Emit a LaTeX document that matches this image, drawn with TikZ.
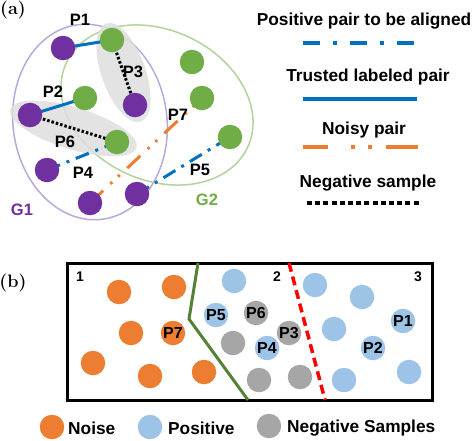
\documentclass[tikz,border=0pt]{standalone}
\usepackage{fontspec}
\newfontfamily\arial{Liberation Sans}
\definecolor{pur}{HTML}{7030A0}
\definecolor{grn}{HTML}{70AD47}
\definecolor{gone}{HTML}{BBA8DA}
\definecolor{gtwo}{HTML}{B3D39C}
\definecolor{blu}{HTML}{0070C0}
\definecolor{org}{HTML}{ED7D31}
\definecolor{lblu}{HTML}{9DC3E6}
\definecolor{gry}{HTML}{A6A6A6}
\definecolor{dgrn}{HTML}{548235}
\definecolor{shade}{HTML}{DEDEDE}
\pgfdeclarelayer{back}
\pgfdeclarelayer{mid}
\pgfsetlayers{back,mid,main}
\tikzset{
  dot/.style={circle, inner sep=0pt, minimum size=24.5pt},
  pc/.style={dot, fill=pur},
  gc/.style={dot, fill=grn},
  oc/.style={dot, fill=org, font=\arial\bfseries\fontsize{16}{17}\selectfont},
  bc/.style={dot, fill=lblu, font=\arial\bfseries\fontsize{16}{17}\selectfont},
  kc/.style={dot, fill=gry, font=\arial\bfseries\fontsize{16}{17}\selectfont},
  lab/.style={inner sep=0pt, font=\arial\bfseries\fontsize{16.5}{18}\selectfont},
  leg/.style={inner sep=0pt, font=\arial\bfseries\fontsize{17.3}{19}\selectfont},
  num/.style={inner sep=0pt, font=\arial\bfseries\fontsize{14}{15}\selectfont},
  panel/.style={inner sep=0pt, font=\bfseries\fontsize{18}{20}\selectfont},
  trusted/.style={blu, line width=3pt},
  posline/.style={blu, line width=3pt, dash pattern=on 14pt off 7pt on 3pt off 7pt},
  noisyline/.style={org, line width=3pt, dash pattern=on 18pt off 10pt on 2.5pt off 8pt on 2.5pt off 10pt},
  negline/.style={black, line width=3pt, dash pattern=on 2.5pt off 2pt},
  shadeell/.style={fill=shade, fill opacity=0.85},
}
\begin{document}
\begin{tikzpicture}[x=1pt,y=-1pt]
\useasboundingbox (0,0) rectangle (474,440);
% ---------- (a) ----------
\node[panel] (pa) at (13,10) {(a)};
\begin{pgfonlayer}{back}
  \draw[gone, line width=1.5pt, rotate around={7:(90,122)}] (90,122) ellipse [x radius=77, y radius=98];
  \draw[gtwo, line width=1.5pt, rotate around={-25:(157,105)}] (157,105) ellipse [x radius=100, y radius=75];
  \fill[shadeell, rotate around={-70.5:(123.5,72.5)}] (123.5,72.5) ellipse [x radius=52, y radius=22];
  \fill[shadeell, rotate around={-17:(73.5,128.5)}] (73.5,128.5) ellipse [x radius=66, y radius=21];
\end{pgfonlayer}
\node[pc] (a1) at (63,48) {};
\node[pc] (a2) at (30,115) {};
\node[pc] (a3) at (135,105) {};
\node[pc] (a4) at (47,170) {};
\node[pc] (a5) at (90,203) {};
\node[pc] (a6) at (137,194) {};
\node[gc] (b1) at (112,40) {};
\node[gc] (b2) at (85,98) {};
\node[gc] (b3) at (117,142) {};
\node[gc] (b4) at (192,62) {};
\node[gc] (b5) at (202,98) {};
\node[gc] (b6) at (230,137) {};
\begin{pgfonlayer}{mid}
  \draw[trusted] (a1.center) -- (b1.center);
  \draw[trusted] (a2.center) -- (b2.center);
  \draw[negline] (b1.center) -- (a3.center);
  \draw[negline] (a2.center) -- (b3.center);
  \draw[posline] (a4.center) -- (b3.center);
  \draw[posline] (a6.center) -- (b6.center);
  \draw[noisyline] (a5.center) -- (b5.center);
\end{pgfonlayer}
\node[lab] (l1) at (80,20) {P1};
\node[lab] (l3) at (133,72) {P3};
\node[lab] (l2) at (53,92) {P2};
\node[lab] (l6) at (65,142) {P6};
\node[lab] (l7) at (178,115) {P7};
\node[lab] (l4) at (83,173) {P4};
\node[lab] (l5) at (200,170) {P5};
\node[lab, text=pur] (g1) at (22,210) {G1};
\node[lab, text=grn] (g2) at (207,200) {G2};
% legend (a)
\node[leg] (t1) at (364,21) {Positive pair to be aligned};
\coordinate (p1s) at (303,43); \coordinate (p1e) at (415,43);
\draw[blu, line width=4pt, dash pattern=on 17pt off 13pt on 4pt off 13pt] (p1s) -- (p1e);
\node[leg] (t2) at (368,77) {Trusted labeled pair};
\coordinate (p2s) at (303,99); \coordinate (p2e) at (417,99);
\draw[blu, line width=4pt] (p2s) -- (p2e);
\node[leg] (t3) at (364,130) {Noisy pair};
\coordinate (p3s) at (303,147); \coordinate (p3e) at (418,147);
\draw[org, line width=4pt, dash pattern=on 25pt off 23pt on 4pt off 13pt on 4pt off 14pt on 40pt] (p3s) -- (p3e);
\node[leg] (t4) at (368,183) {Negative sample};
\coordinate (p4s) at (307,203); \coordinate (p4e) at (421,203);
\draw[black, line width=4pt, dash pattern=on 5pt off 3.2pt] (p4s) -- (p4e);
% ---------- (b) ----------
\node[panel] (pb) at (13,283) {(b)};
\draw[black, line width=3pt] (67,263) rectangle (432,400);
\node[num] (n1) at (80,277) {1};
\node[num] (n2) at (277,277) {2};
\node[num] (n3) at (418,277) {3};
\coordinate (gt) at (198,263); \coordinate (gm) at (189,319); \coordinate (gb) at (248,400);
\draw[dgrn, line width=3pt] (gt) -- (gm) -- (gb);
\coordinate (rt) at (289,263); \coordinate (rb) at (325,400);
\draw[red, line width=3.5pt, dash pattern=on 9pt off 5pt] (rt) -- (rb);
% orange
\node[oc] (o1) at (119,292) {};
\node[oc] (o2) at (174,287) {};
\node[oc] (o3) at (131,333) {};
\node[oc] (o4) at (173,333) {P7};
\node[oc] (o5) at (93,363) {};
\node[oc] (o6) at (150,376) {};
\node[oc] (o7) at (204,372) {};
% blue
\node[bc] (c1) at (234,281) {};
\node[bc] (c2) at (216,315) {P5};
\node[bc] (c3) at (267,348) {P4};
\node[bc] (c4) at (315,285) {};
\node[bc] (c5) at (362,297) {};
\node[bc] (c6) at (334,329) {};
\node[bc] (c7) at (403,321) {P1};
\node[bc] (c8) at (373,348) {P2};
\node[bc] (c9) at (409,372) {};
\node[bc] (c10) at (344,380) {};
% gray
\node[kc] (k1) at (256,313) {P6};
\node[kc] (k2) at (233,343) {};
\node[kc] (k3) at (289,333) {P3};
\node[kc] (k4) at (259,380) {};
\node[kc] (k5) at (300,377) {};
% legend (b)
\node[dot, fill=org] (lo) at (52,427) {};
\node[leg, anchor=west] (lot) at (68,428) {Noise};
\node[dot, fill=lblu] (lb) at (150,427) {};
\node[leg, anchor=west] (lbt) at (168,428) {Positive};
\node[dot, fill=gry] (lk) at (269,426) {};
\node[leg, anchor=west] (lkt) at (287,428) {Negative Samples};
\end{tikzpicture}
\end{document}
